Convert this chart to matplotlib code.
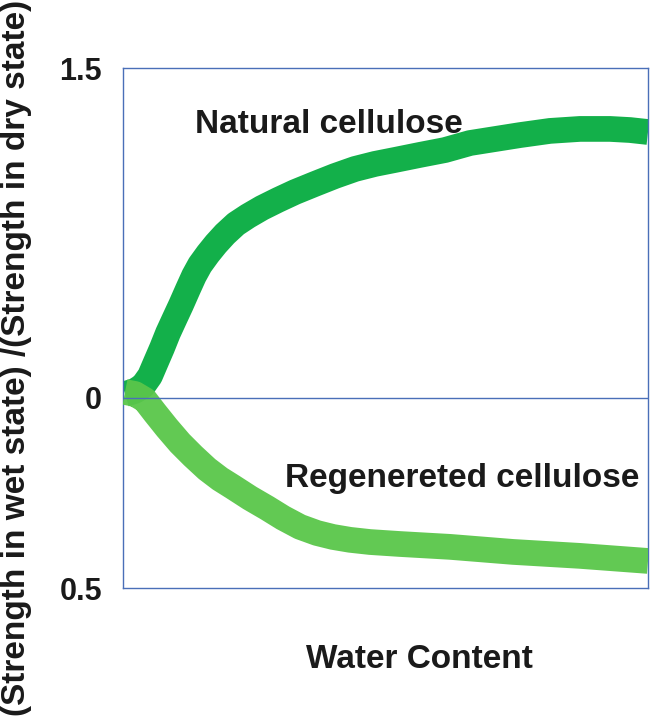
import matplotlib.pyplot as plt

# water content (arbitrary %, 0-100) and strength ratio (arbitrary units)
natural_x = [0.38, 2.29, 3.81, 5.14, 6.29, 7.43, 8.57, 9.90, 11.05, 12.38, 13.52,
             14.67, 16.19, 17.71, 19.43, 21.52, 23.81, 26.48, 29.52, 32.76, 36.57,
             40.38, 44.19, 48.0, 51.81, 56.57, 61.33, 66.10, 70.86, 75.62, 81.33,
             87.05, 92.76, 96.57, 100.0]
natural_y = [0.018, 0.032, 0.055, 0.100, 0.164, 0.227, 0.295, 0.364, 0.423, 0.495,
             0.555, 0.605, 0.655, 0.700, 0.745, 0.791, 0.827, 0.864, 0.900, 0.936,
             0.973, 1.009, 1.041, 1.064, 1.082, 1.105, 1.127, 1.159, 1.177, 1.195,
             1.214, 1.223, 1.223, 1.218, 1.209]

regen_x = [0.38, 2.29, 4.19, 6.10, 8.38, 10.86, 13.33, 16.0, 18.48, 20.95, 24.19,
           27.43, 30.48, 33.71, 36.95, 40.0, 43.24, 47.05, 52.76, 62.29, 74.29,
           87.05, 100.0]
regen_y = [0.027, 0.018, -0.009, -0.068, -0.136, -0.205, -0.264, -0.323, -0.368,
           -0.405, -0.455, -0.500, -0.545, -0.586, -0.614, -0.632, -0.645, -0.655,
           -0.664, -0.677, -0.700, -0.718, -0.741]

tick_pos = [1.5, 0.0, -0.864]
tick_labels = ['1.5', '0', '0.5']

W, H = 659, 717
plt.rcParams['font.family'] = ['Liberation Sans', 'DejaVu Sans']
plt.rcParams['font.weight'] = 'bold'

fig = plt.figure(figsize=(W / 100, H / 100), dpi=100)
ax = fig.add_axes([123 / W, 1 - 588 / H, (648 - 123) / W, (588 - 68) / H])

box_color = '#4a6fb8'
ax.plot(natural_x, natural_y, color='#13b04a', lw=18.5, solid_capstyle='butt',
        solid_joinstyle='round', zorder=2)
ax.plot(regen_x, regen_y, color='#5ac64a', lw=18.5, solid_capstyle='butt',
        solid_joinstyle='round', alpha=0.95, zorder=3)
ax.axhline(0, color=box_color, lw=1.0, zorder=4)

ax.set_xlim(0, 100)
ax.set_ylim(tick_pos[2], tick_pos[0])
ax.set_xticks([])
ax.set_yticks(tick_pos)
ax.set_yticklabels(tick_labels, fontsize=22, fontweight='bold', color='#1a1a1a')
ax.tick_params(axis='y', length=0, pad=15)
for s in ax.spines.values():
    s.set_color(box_color)
    s.set_linewidth(1.0)

txt = dict(fontsize=24, fontweight='bold', color='#1a1a1a')
fig.text(195 / W, 1 - 133 / H, 'Natural cellulose', ha='left', va='baseline', **txt)
fig.text(285 / W, 1 - 487 / H, 'Regenereted cellulose', ha='left', va='baseline', **txt)
fig.text(419 / W, 1 - 660 / H, 'Water Content', ha='center', va='center', **txt)
fig.text(17 / W, 1 - 358 / H, '(Strength in wet state) /(Strength in dry state)',
         rotation=90, ha='center', va='center', **txt)

fig.savefig('out.png', dpi=100)
